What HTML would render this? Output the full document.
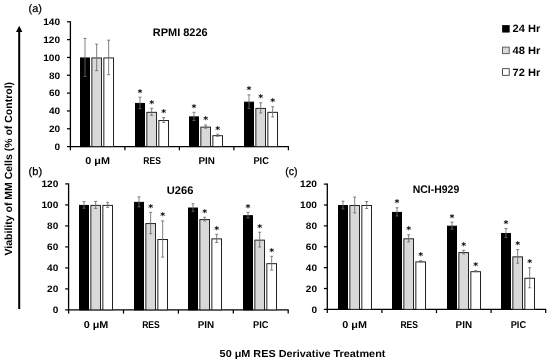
<!DOCTYPE html>
<html><head><meta charset="utf-8"><title>Viability of MM Cells</title>
<style>html,body{margin:0;padding:0;background:#fff}svg{display:block}text{font-family:'Liberation Sans', sans-serif;fill:#000;text-rendering:geometricPrecision}text.st{font-family:"DejaVu Sans",sans-serif}</style></head><body>
<svg width="550" height="364" viewBox="0 0 550 364">
<rect width="550" height="364" fill="#fff"/>
<path d="M70.40 21.29V147.10" stroke="#000" stroke-width="1.3" fill="none"/>
<path d="M69.90 146.60H288.90" stroke="#000" stroke-width="1.3" fill="none"/>
<path d="M67.00 146.60H70.40" stroke="#000" stroke-width="1.25"/>
<text x="60.10" y="149.90" font-size="9.4" font-weight="bold" text-anchor="end" textLength="5.6" lengthAdjust="spacingAndGlyphs">0</text>
<path d="M67.00 128.77H70.40" stroke="#000" stroke-width="1.25"/>
<text x="60.10" y="132.07" font-size="9.4" font-weight="bold" text-anchor="end" textLength="11.2" lengthAdjust="spacingAndGlyphs">20</text>
<path d="M67.00 110.94H70.40" stroke="#000" stroke-width="1.25"/>
<text x="60.10" y="114.24" font-size="9.4" font-weight="bold" text-anchor="end" textLength="11.2" lengthAdjust="spacingAndGlyphs">40</text>
<path d="M67.00 93.11H70.40" stroke="#000" stroke-width="1.25"/>
<text x="60.10" y="96.41" font-size="9.4" font-weight="bold" text-anchor="end" textLength="11.2" lengthAdjust="spacingAndGlyphs">60</text>
<path d="M67.00 75.28H70.40" stroke="#000" stroke-width="1.25"/>
<text x="60.10" y="78.58" font-size="9.4" font-weight="bold" text-anchor="end" textLength="11.2" lengthAdjust="spacingAndGlyphs">80</text>
<path d="M67.00 57.45H70.40" stroke="#000" stroke-width="1.25"/>
<text x="60.10" y="60.75" font-size="9.4" font-weight="bold" text-anchor="end" textLength="16.9" lengthAdjust="spacingAndGlyphs">100</text>
<path d="M67.00 39.62H70.40" stroke="#000" stroke-width="1.25"/>
<text x="60.10" y="42.92" font-size="9.4" font-weight="bold" text-anchor="end" textLength="16.9" lengthAdjust="spacingAndGlyphs">120</text>
<path d="M67.00 21.79H70.40" stroke="#000" stroke-width="1.25"/>
<text x="60.10" y="25.09" font-size="9.4" font-weight="bold" text-anchor="end" textLength="16.9" lengthAdjust="spacingAndGlyphs">140</text>
<path d="M70.40 146.60V150.30" stroke="#000" stroke-width="1.25"/>
<path d="M124.90 146.60V150.30" stroke="#000" stroke-width="1.25"/>
<path d="M179.40 146.60V150.30" stroke="#000" stroke-width="1.25"/>
<path d="M233.90 146.60V150.30" stroke="#000" stroke-width="1.25"/>
<path d="M288.40 146.60V150.30" stroke="#000" stroke-width="1.25"/>
<rect x="80.50" y="57.95" width="9.00" height="88.65" fill="#000" stroke="#000" stroke-width="1"/>
<path d="M85.00 38.45V76.45M83.50 38.45h3M83.50 76.45h3" stroke="#6a6a6a" stroke-width="0.85" fill="none"/>
<rect x="91.85" y="57.95" width="9.65" height="88.65" fill="#d9d9d9" stroke="#262626" stroke-width="1"/>
<path d="M96.67 44.20V70.70M95.17 44.20h3M95.17 70.70h3" stroke="#6a6a6a" stroke-width="0.85" fill="none"/>
<rect x="103.85" y="57.95" width="9.65" height="88.65" fill="#fff" stroke="#222" stroke-width="1"/>
<path d="M108.67 40.20V74.70M107.17 40.20h3M107.17 74.70h3" stroke="#6a6a6a" stroke-width="0.85" fill="none"/>
<rect x="135.50" y="103.42" width="9.00" height="43.18" fill="#000" stroke="#000" stroke-width="1"/>
<path d="M140.00 97.22V108.62M138.50 97.22h3M138.50 108.62h3" stroke="#6a6a6a" stroke-width="0.85" fill="none"/>
<text x="140.00" y="95.62" font-size="9.5" font-weight="bold" text-anchor="middle" class="st">*</text>
<rect x="146.85" y="112.33" width="9.65" height="34.27" fill="#d9d9d9" stroke="#262626" stroke-width="1"/>
<path d="M151.67 108.33V115.33M150.17 108.33h3M150.17 115.33h3" stroke="#6a6a6a" stroke-width="0.85" fill="none"/>
<text x="151.67" y="106.73" font-size="9.5" font-weight="bold" text-anchor="middle" class="st">*</text>
<rect x="158.85" y="120.53" width="9.65" height="26.07" fill="#fff" stroke="#222" stroke-width="1"/>
<path d="M163.67 117.63V122.43M162.17 117.63h3M162.17 122.43h3" stroke="#6a6a6a" stroke-width="0.85" fill="none"/>
<text x="163.67" y="116.03" font-size="9.5" font-weight="bold" text-anchor="middle" class="st">*</text>
<rect x="189.50" y="116.88" width="9.00" height="29.72" fill="#000" stroke="#000" stroke-width="1"/>
<path d="M194.00 112.28V120.48M192.50 112.28h3M192.50 120.48h3" stroke="#6a6a6a" stroke-width="0.85" fill="none"/>
<text x="194.00" y="110.68" font-size="9.5" font-weight="bold" text-anchor="middle" class="st">*</text>
<rect x="200.85" y="127.13" width="9.65" height="19.47" fill="#d9d9d9" stroke="#262626" stroke-width="1"/>
<path d="M205.67 125.03V128.23M204.17 125.03h3M204.17 128.23h3" stroke="#6a6a6a" stroke-width="0.85" fill="none"/>
<text x="205.67" y="123.43" font-size="9.5" font-weight="bold" text-anchor="middle" class="st">*</text>
<rect x="212.85" y="135.69" width="9.65" height="10.91" fill="#fff" stroke="#222" stroke-width="1"/>
<path d="M217.67 134.19V136.19M216.17 134.19h3M216.17 136.19h3" stroke="#6a6a6a" stroke-width="0.85" fill="none"/>
<text x="217.67" y="132.59" font-size="9.5" font-weight="bold" text-anchor="middle" class="st">*</text>
<rect x="244.50" y="102.17" width="9.00" height="44.43" fill="#000" stroke="#000" stroke-width="1"/>
<path d="M249.00 94.87V108.47M247.50 94.87h3M247.50 108.47h3" stroke="#6a6a6a" stroke-width="0.85" fill="none"/>
<text x="249.00" y="93.27" font-size="9.5" font-weight="bold" text-anchor="middle" class="st">*</text>
<rect x="255.85" y="108.41" width="9.65" height="38.19" fill="#d9d9d9" stroke="#262626" stroke-width="1"/>
<path d="M260.68 102.81V113.01M259.18 102.81h3M259.18 113.01h3" stroke="#6a6a6a" stroke-width="0.85" fill="none"/>
<text x="260.68" y="101.21" font-size="9.5" font-weight="bold" text-anchor="middle" class="st">*</text>
<rect x="267.85" y="112.33" width="9.65" height="34.27" fill="#fff" stroke="#222" stroke-width="1"/>
<path d="M272.68 106.73V116.93M271.18 106.73h3M271.18 116.93h3" stroke="#6a6a6a" stroke-width="0.85" fill="none"/>
<text x="272.68" y="105.13" font-size="9.5" font-weight="bold" text-anchor="middle" class="st">*</text>
<text x="97.65" y="164.20" font-size="10" font-weight="bold" text-anchor="middle" textLength="24.6" lengthAdjust="spacingAndGlyphs">0 μM</text>
<text x="152.15" y="164.20" font-size="10" font-weight="bold" text-anchor="middle" textLength="17.6" lengthAdjust="spacingAndGlyphs">RES</text>
<text x="206.65" y="164.20" font-size="10" font-weight="bold" text-anchor="middle" textLength="16.4" lengthAdjust="spacingAndGlyphs">PIN</text>
<text x="261.15" y="164.20" font-size="10" font-weight="bold" text-anchor="middle" textLength="15.4" lengthAdjust="spacingAndGlyphs">PIC</text>
<text x="180.20" y="36.00" font-size="11" font-weight="bold" text-anchor="middle" textLength="54.8" lengthAdjust="spacingAndGlyphs">RPMI 8226</text>
<path d="M68.60 183.40V310.40" stroke="#000" stroke-width="1.3" fill="none"/>
<path d="M68.10 309.90H288.70" stroke="#000" stroke-width="1.3" fill="none"/>
<path d="M65.20 309.90H68.60" stroke="#000" stroke-width="1.25"/>
<text x="58.30" y="313.20" font-size="9.4" font-weight="bold" text-anchor="end" textLength="5.6" lengthAdjust="spacingAndGlyphs">0</text>
<path d="M65.20 288.90H68.60" stroke="#000" stroke-width="1.25"/>
<text x="58.30" y="292.20" font-size="9.4" font-weight="bold" text-anchor="end" textLength="11.2" lengthAdjust="spacingAndGlyphs">20</text>
<path d="M65.20 267.90H68.60" stroke="#000" stroke-width="1.25"/>
<text x="58.30" y="271.20" font-size="9.4" font-weight="bold" text-anchor="end" textLength="11.2" lengthAdjust="spacingAndGlyphs">40</text>
<path d="M65.20 246.90H68.60" stroke="#000" stroke-width="1.25"/>
<text x="58.30" y="250.20" font-size="9.4" font-weight="bold" text-anchor="end" textLength="11.2" lengthAdjust="spacingAndGlyphs">60</text>
<path d="M65.20 225.90H68.60" stroke="#000" stroke-width="1.25"/>
<text x="58.30" y="229.20" font-size="9.4" font-weight="bold" text-anchor="end" textLength="11.2" lengthAdjust="spacingAndGlyphs">80</text>
<path d="M65.20 204.90H68.60" stroke="#000" stroke-width="1.25"/>
<text x="58.30" y="208.20" font-size="9.4" font-weight="bold" text-anchor="end" textLength="16.9" lengthAdjust="spacingAndGlyphs">100</text>
<path d="M65.20 183.90H68.60" stroke="#000" stroke-width="1.25"/>
<text x="58.30" y="187.20" font-size="9.4" font-weight="bold" text-anchor="end" textLength="16.9" lengthAdjust="spacingAndGlyphs">120</text>
<path d="M68.60 309.90V313.60" stroke="#000" stroke-width="1.25"/>
<path d="M123.50 309.90V313.60" stroke="#000" stroke-width="1.25"/>
<path d="M178.40 309.90V313.60" stroke="#000" stroke-width="1.25"/>
<path d="M233.30 309.90V313.60" stroke="#000" stroke-width="1.25"/>
<path d="M288.20 309.90V313.60" stroke="#000" stroke-width="1.25"/>
<rect x="79.50" y="205.40" width="9.00" height="104.50" fill="#000" stroke="#000" stroke-width="1"/>
<path d="M84.00 201.60V208.20M82.50 201.60h3M82.50 208.20h3" stroke="#6a6a6a" stroke-width="0.85" fill="none"/>
<rect x="90.85" y="205.40" width="9.65" height="104.50" fill="#d9d9d9" stroke="#262626" stroke-width="1"/>
<path d="M95.67 201.40V208.40M94.17 201.40h3M94.17 208.40h3" stroke="#6a6a6a" stroke-width="0.85" fill="none"/>
<rect x="102.85" y="205.40" width="9.65" height="104.50" fill="#fff" stroke="#222" stroke-width="1"/>
<path d="M107.67 202.40V207.40M106.17 202.40h3M106.17 207.40h3" stroke="#6a6a6a" stroke-width="0.85" fill="none"/>
<rect x="134.50" y="202.35" width="9.00" height="107.55" fill="#000" stroke="#000" stroke-width="1"/>
<path d="M139.00 196.85V206.85M137.50 196.85h3M137.50 206.85h3" stroke="#6a6a6a" stroke-width="0.85" fill="none"/>
<rect x="145.85" y="223.56" width="9.65" height="86.34" fill="#d9d9d9" stroke="#262626" stroke-width="1"/>
<path d="M150.67 212.36V233.76M149.17 212.36h3M149.17 233.76h3" stroke="#6a6a6a" stroke-width="0.85" fill="none"/>
<text x="150.67" y="210.76" font-size="9.5" font-weight="bold" text-anchor="middle" class="st">*</text>
<rect x="157.85" y="239.52" width="9.65" height="70.38" fill="#fff" stroke="#222" stroke-width="1"/>
<path d="M162.67 220.92V257.12M161.17 220.92h3M161.17 257.12h3" stroke="#6a6a6a" stroke-width="0.85" fill="none"/>
<text x="162.67" y="219.32" font-size="9.5" font-weight="bold" text-anchor="middle" class="st">*</text>
<rect x="188.50" y="208.02" width="9.00" height="101.88" fill="#000" stroke="#000" stroke-width="1"/>
<path d="M193.00 203.72V211.32M191.50 203.72h3M191.50 211.32h3" stroke="#6a6a6a" stroke-width="0.85" fill="none"/>
<rect x="199.85" y="219.57" width="9.65" height="90.32" fill="#d9d9d9" stroke="#262626" stroke-width="1"/>
<path d="M204.67 217.27V220.88M203.17 217.27h3M203.17 220.88h3" stroke="#6a6a6a" stroke-width="0.85" fill="none"/>
<text x="204.67" y="215.67" font-size="9.5" font-weight="bold" text-anchor="middle" class="st">*</text>
<rect x="211.85" y="238.89" width="9.65" height="71.00" fill="#fff" stroke="#222" stroke-width="1"/>
<path d="M216.67 234.29V242.49M215.17 234.29h3M215.17 242.49h3" stroke="#6a6a6a" stroke-width="0.85" fill="none"/>
<text x="216.67" y="232.69" font-size="9.5" font-weight="bold" text-anchor="middle" class="st">*</text>
<rect x="243.50" y="215.69" width="9.00" height="94.21" fill="#000" stroke="#000" stroke-width="1"/>
<path d="M248.00 212.39V217.99M246.50 212.39h3M246.50 217.99h3" stroke="#6a6a6a" stroke-width="0.85" fill="none"/>
<text x="248.00" y="210.79" font-size="9.5" font-weight="bold" text-anchor="middle" class="st">*</text>
<rect x="254.85" y="240.15" width="9.65" height="69.75" fill="#d9d9d9" stroke="#262626" stroke-width="1"/>
<path d="M259.68 232.25V247.05M258.18 232.25h3M258.18 247.05h3" stroke="#6a6a6a" stroke-width="0.85" fill="none"/>
<text x="259.68" y="230.65" font-size="9.5" font-weight="bold" text-anchor="middle" class="st">*</text>
<rect x="266.85" y="263.67" width="9.65" height="46.23" fill="#fff" stroke="#222" stroke-width="1"/>
<path d="M271.68 256.27V270.07M270.18 256.27h3M270.18 270.07h3" stroke="#6a6a6a" stroke-width="0.85" fill="none"/>
<text x="271.68" y="254.67" font-size="9.5" font-weight="bold" text-anchor="middle" class="st">*</text>
<text x="96.05" y="327.70" font-size="10" font-weight="bold" text-anchor="middle" textLength="24.6" lengthAdjust="spacingAndGlyphs">0 μM</text>
<text x="150.95" y="327.70" font-size="10" font-weight="bold" text-anchor="middle" textLength="17.6" lengthAdjust="spacingAndGlyphs">RES</text>
<text x="205.85" y="327.70" font-size="10" font-weight="bold" text-anchor="middle" textLength="16.4" lengthAdjust="spacingAndGlyphs">PIN</text>
<text x="260.75" y="327.70" font-size="10" font-weight="bold" text-anchor="middle" textLength="15.4" lengthAdjust="spacingAndGlyphs">PIC</text>
<text x="180.10" y="194.30" font-size="11" font-weight="bold" text-anchor="middle" textLength="26.6" lengthAdjust="spacingAndGlyphs">U266</text>
<path d="M327.30 183.62V309.90" stroke="#000" stroke-width="1.3" fill="none"/>
<path d="M326.80 309.40H546.20" stroke="#000" stroke-width="1.3" fill="none"/>
<path d="M323.90 309.40H327.30" stroke="#000" stroke-width="1.25"/>
<text x="317.00" y="312.70" font-size="9.4" font-weight="bold" text-anchor="end" textLength="5.6" lengthAdjust="spacingAndGlyphs">0</text>
<path d="M323.90 288.52H327.30" stroke="#000" stroke-width="1.25"/>
<text x="317.00" y="291.82" font-size="9.4" font-weight="bold" text-anchor="end" textLength="11.2" lengthAdjust="spacingAndGlyphs">20</text>
<path d="M323.90 267.64H327.30" stroke="#000" stroke-width="1.25"/>
<text x="317.00" y="270.94" font-size="9.4" font-weight="bold" text-anchor="end" textLength="11.2" lengthAdjust="spacingAndGlyphs">40</text>
<path d="M323.90 246.76H327.30" stroke="#000" stroke-width="1.25"/>
<text x="317.00" y="250.06" font-size="9.4" font-weight="bold" text-anchor="end" textLength="11.2" lengthAdjust="spacingAndGlyphs">60</text>
<path d="M323.90 225.88H327.30" stroke="#000" stroke-width="1.25"/>
<text x="317.00" y="229.18" font-size="9.4" font-weight="bold" text-anchor="end" textLength="11.2" lengthAdjust="spacingAndGlyphs">80</text>
<path d="M323.90 205.00H327.30" stroke="#000" stroke-width="1.25"/>
<text x="317.00" y="208.30" font-size="9.4" font-weight="bold" text-anchor="end" textLength="16.9" lengthAdjust="spacingAndGlyphs">100</text>
<path d="M323.90 184.12H327.30" stroke="#000" stroke-width="1.25"/>
<text x="317.00" y="187.42" font-size="9.4" font-weight="bold" text-anchor="end" textLength="16.9" lengthAdjust="spacingAndGlyphs">120</text>
<path d="M327.30 309.40V313.10" stroke="#000" stroke-width="1.25"/>
<path d="M381.90 309.40V313.10" stroke="#000" stroke-width="1.25"/>
<path d="M436.50 309.40V313.10" stroke="#000" stroke-width="1.25"/>
<path d="M491.10 309.40V313.10" stroke="#000" stroke-width="1.25"/>
<path d="M545.70 309.40V313.10" stroke="#000" stroke-width="1.25"/>
<rect x="338.50" y="205.50" width="9.00" height="103.90" fill="#000" stroke="#000" stroke-width="1"/>
<path d="M343.00 201.20V208.80M341.50 201.20h3M341.50 208.80h3" stroke="#6a6a6a" stroke-width="0.85" fill="none"/>
<rect x="349.85" y="205.50" width="9.65" height="103.90" fill="#d9d9d9" stroke="#262626" stroke-width="1"/>
<path d="M354.68 197.10V212.90M353.18 197.10h3M353.18 212.90h3" stroke="#6a6a6a" stroke-width="0.85" fill="none"/>
<rect x="361.85" y="205.50" width="9.65" height="103.90" fill="#fff" stroke="#222" stroke-width="1"/>
<path d="M366.68 201.50V208.50M365.18 201.50h3M365.18 208.50h3" stroke="#6a6a6a" stroke-width="0.85" fill="none"/>
<rect x="392.50" y="212.39" width="9.00" height="97.01" fill="#000" stroke="#000" stroke-width="1"/>
<path d="M397.00 207.79V215.99M395.50 207.79h3M395.50 215.99h3" stroke="#6a6a6a" stroke-width="0.85" fill="none"/>
<text x="397.00" y="206.19" font-size="9.5" font-weight="bold" text-anchor="middle" class="st">*</text>
<rect x="403.85" y="238.80" width="9.65" height="70.60" fill="#d9d9d9" stroke="#262626" stroke-width="1"/>
<path d="M408.68 234.80V241.80M407.18 234.80h3M407.18 241.80h3" stroke="#6a6a6a" stroke-width="0.85" fill="none"/>
<text x="408.68" y="233.20" font-size="9.5" font-weight="bold" text-anchor="middle" class="st">*</text>
<rect x="415.85" y="261.88" width="9.65" height="47.52" fill="#fff" stroke="#222" stroke-width="1"/>
<path d="M420.68 260.68V262.08M419.18 260.68h3M419.18 262.08h3" stroke="#6a6a6a" stroke-width="0.85" fill="none"/>
<text x="420.68" y="259.08" font-size="9.5" font-weight="bold" text-anchor="middle" class="st">*</text>
<rect x="447.50" y="226.17" width="9.00" height="83.23" fill="#000" stroke="#000" stroke-width="1"/>
<path d="M452.00 222.17V229.17M450.50 222.17h3M450.50 229.17h3" stroke="#6a6a6a" stroke-width="0.85" fill="none"/>
<text x="452.00" y="220.57" font-size="9.5" font-weight="bold" text-anchor="middle" class="st">*</text>
<rect x="458.85" y="252.58" width="9.65" height="56.82" fill="#d9d9d9" stroke="#262626" stroke-width="1"/>
<path d="M463.68 250.28V253.88M462.18 250.28h3M462.18 253.88h3" stroke="#6a6a6a" stroke-width="0.85" fill="none"/>
<text x="463.68" y="248.68" font-size="9.5" font-weight="bold" text-anchor="middle" class="st">*</text>
<rect x="470.85" y="271.69" width="9.65" height="37.71" fill="#fff" stroke="#222" stroke-width="1"/>
<path d="M475.68 270.69V271.69M474.18 270.69h3M474.18 271.69h3" stroke="#6a6a6a" stroke-width="0.85" fill="none"/>
<text x="475.68" y="269.09" font-size="9.5" font-weight="bold" text-anchor="middle" class="st">*</text>
<rect x="501.50" y="233.48" width="9.00" height="75.92" fill="#000" stroke="#000" stroke-width="1"/>
<path d="M506.00 228.48V237.48M504.50 228.48h3M504.50 237.48h3" stroke="#6a6a6a" stroke-width="0.85" fill="none"/>
<text x="506.00" y="226.88" font-size="9.5" font-weight="bold" text-anchor="middle" class="st">*</text>
<rect x="512.85" y="256.86" width="9.65" height="52.54" fill="#d9d9d9" stroke="#262626" stroke-width="1"/>
<path d="M517.68 249.56V263.16M516.18 249.56h3M516.18 263.16h3" stroke="#6a6a6a" stroke-width="0.85" fill="none"/>
<text x="517.68" y="247.96" font-size="9.5" font-weight="bold" text-anchor="middle" class="st">*</text>
<rect x="524.85" y="278.27" width="9.65" height="31.13" fill="#fff" stroke="#222" stroke-width="1"/>
<path d="M529.68 267.77V287.77M528.18 267.77h3M528.18 287.77h3" stroke="#6a6a6a" stroke-width="0.85" fill="none"/>
<text x="529.68" y="266.17" font-size="9.5" font-weight="bold" text-anchor="middle" class="st">*</text>
<text x="354.60" y="327.60" font-size="10" font-weight="bold" text-anchor="middle" textLength="24.6" lengthAdjust="spacingAndGlyphs">0 μM</text>
<text x="409.20" y="327.60" font-size="10" font-weight="bold" text-anchor="middle" textLength="17.6" lengthAdjust="spacingAndGlyphs">RES</text>
<text x="463.80" y="327.60" font-size="10" font-weight="bold" text-anchor="middle" textLength="16.4" lengthAdjust="spacingAndGlyphs">PIN</text>
<text x="518.40" y="327.60" font-size="10" font-weight="bold" text-anchor="middle" textLength="15.4" lengthAdjust="spacingAndGlyphs">PIC</text>
<text x="436.00" y="193.40" font-size="11" font-weight="bold" text-anchor="middle" textLength="46.5" lengthAdjust="spacingAndGlyphs">NCI-H929</text>
<text x="28.60" y="11.50" font-size="11" font-weight="normal" text-anchor="start" textLength="13.2" lengthAdjust="spacingAndGlyphs" stroke="#000" stroke-width="0.25">(a)</text>
<text x="28.60" y="174.60" font-size="11" font-weight="normal" text-anchor="start" textLength="13.6" lengthAdjust="spacingAndGlyphs" stroke="#000" stroke-width="0.25">(b)</text>
<text x="285.20" y="175.00" font-size="11" font-weight="normal" text-anchor="start" textLength="12.4" lengthAdjust="spacingAndGlyphs" stroke="#000" stroke-width="0.25">(c)</text>
<path d="M19.2 31.5V309" stroke="#000" stroke-width="2"/>
<path d="M19.2 25.7L22.4 32H16Z" fill="#000"/>
<text transform="translate(12.4 255.5) rotate(-90)" font-size="10.4" font-weight="bold" text-anchor="start" textLength="173.6" lengthAdjust="spacingAndGlyphs">Viability of MM Cells (% of Control)</text>
<text x="219.60" y="357.30" font-size="10.2" font-weight="bold" text-anchor="start" textLength="165.8" lengthAdjust="spacingAndGlyphs">50 μM RES Derivative Treatment</text>
<rect x="502.6" y="25.50" width="6.6" height="6.6" fill="#000" stroke="#000" stroke-width="0.8"/>
<text x="512.50" y="32.30" font-size="10.6" font-weight="bold" text-anchor="start" textLength="27.8" lengthAdjust="spacingAndGlyphs">24 Hr</text>
<rect x="502.6" y="47.10" width="6.6" height="6.6" fill="#d9d9d9" stroke="#404040" stroke-width="0.8"/>
<text x="512.50" y="53.90" font-size="10.6" font-weight="bold" text-anchor="start" textLength="27.8" lengthAdjust="spacingAndGlyphs">48 Hr</text>
<rect x="502.6" y="68.70" width="6.6" height="6.6" fill="#fff" stroke="#262626" stroke-width="0.8"/>
<text x="512.50" y="75.50" font-size="10.6" font-weight="bold" text-anchor="start" textLength="27.8" lengthAdjust="spacingAndGlyphs">72 Hr</text>
</svg></body></html>
